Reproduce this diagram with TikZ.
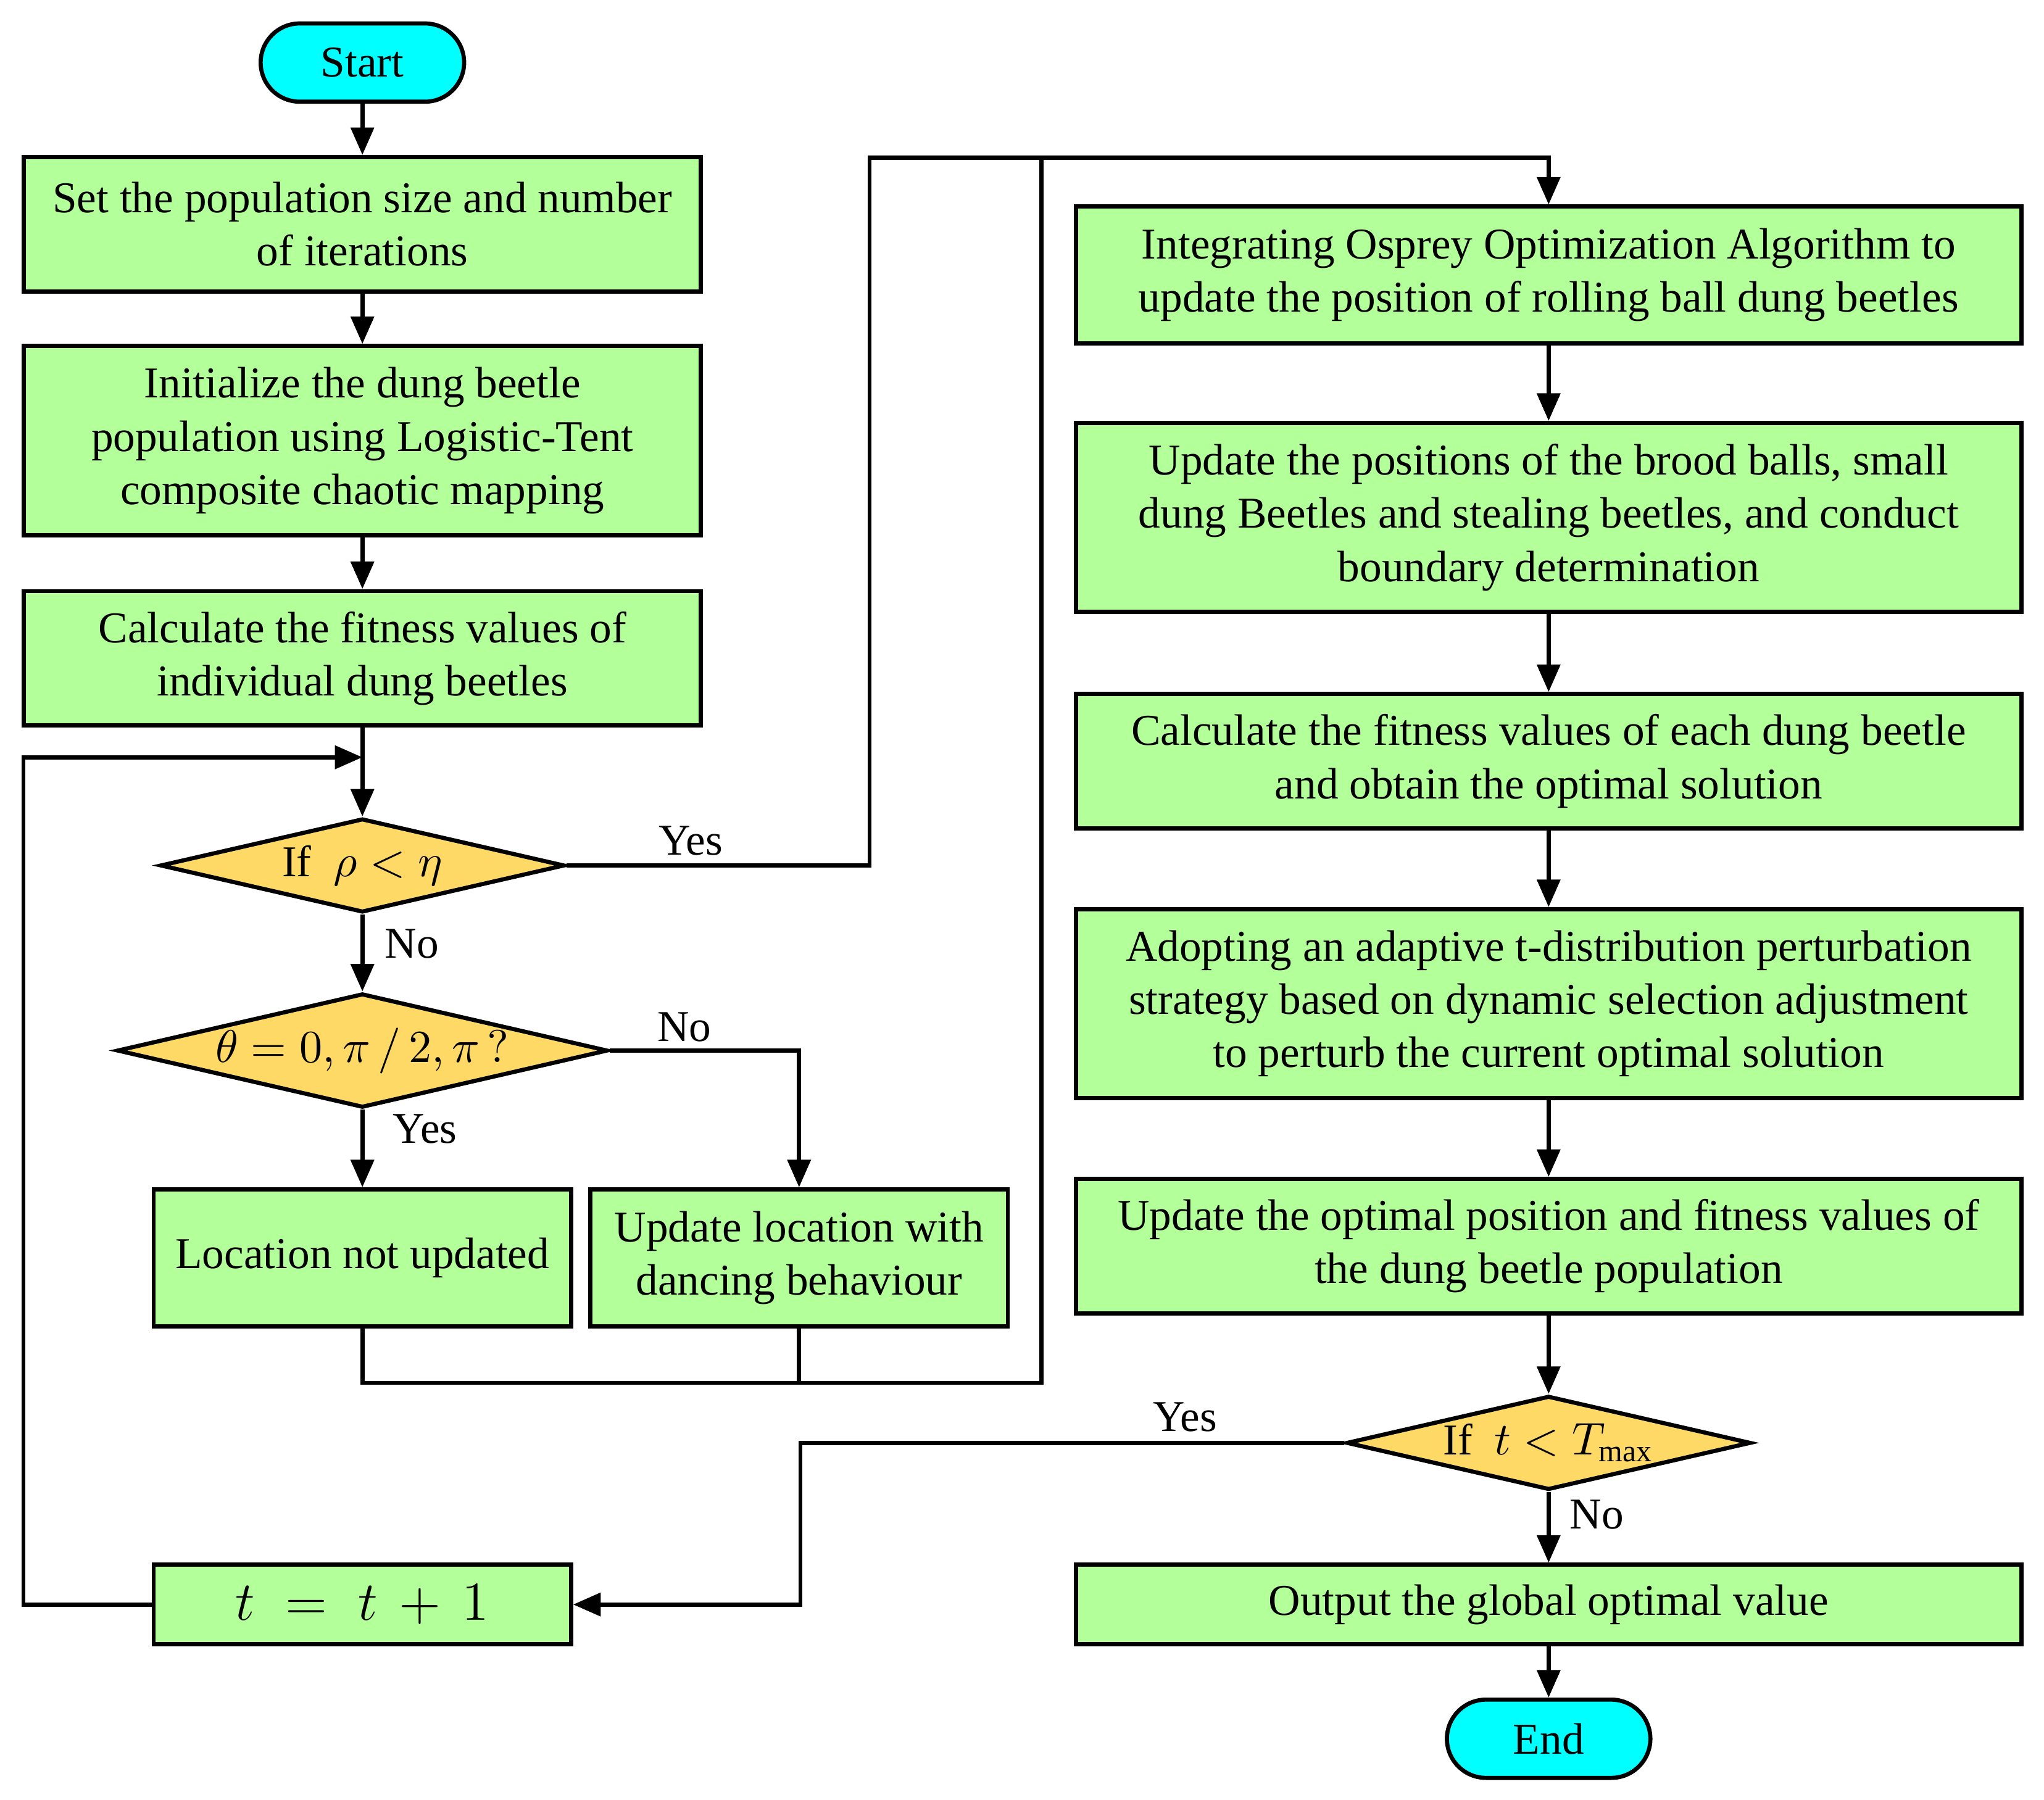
\documentclass[tikz,border=0pt]{standalone}
\usepackage{fontspec}
\setmainfont{Liberation Serif}
\usetikzlibrary{arrows.meta,shapes.geometric}
\definecolor{boxgreen}{HTML}{B3FF99}
\definecolor{decgold}{HTML}{FFD966}
\definecolor{termcyan}{HTML}{00FFFF}

\begin{document}
\begin{tikzpicture}[x=0.01cm, y=-0.01cm,
    font=\fontsize{9.6}{11.6}\selectfont,
    every path/.style={line width=0.9pt},
    box/.style={draw, fill=boxgreen, align=center, inner sep=2pt},
    term/.style={draw, fill=termcyan, rounded corners=0.3cm, minimum width=1.56cm, minimum height=0.6cm},
    dec/.style={draw, fill=decgold, diamond, aspect=4.3, minimum width=3.1cm, minimum height=0.72cm, inner sep=0pt},
    arr/.style={-{Triangle[length=6pt,width=5pt]}}]
    \useasboundingbox (0,0) rectangle (1568,1381);

    % Left column
    \node[term] (start) at (278,48) {Start};
    \node[box, minimum width=5.19cm, minimum height=1.03cm] (init) at (278,172) {Set the population size and number\\of iterations};
    \node[box, minimum width=5.19cm, minimum height=1.45cm] (chaos) at (278,338) {Initialize the dung beetle\\population using Logistic-Tent\\composite chaotic mapping};
    \node[box, minimum width=5.19cm, minimum height=1.03cm] (fit) at (278,505) {Calculate the fitness values of\\individual dung beetles};
    \node[dec] (rho) at (278,664) {If\ \ $\rho<\eta$};
    \node[dec] (theta) at (278,806) {$\theta=0,\pi\,/\,2,\pi\,?$};
    \node[box, minimum width=3.2cm, minimum height=1.05cm] (keep) at (278,965) {Location not updated};
    \node[box, minimum width=3.2cm, minimum height=1.05cm] (dance) at (613,965) {Update location with\\dancing behaviour};
    \node[box, minimum width=3.2cm, minimum height=0.61cm, font=\fontsize{13}{15}\selectfont] (incr) at (278,1231) {$t\;=\;t\,+\,1$};

    % Right column
    \node[box, minimum width=7.25cm, minimum height=1.05cm] (osprey) at (1188,211) {Integrating Osprey Optimization Algorithm to\\update the position of rolling ball dung beetles};
    \node[box, minimum width=7.25cm, minimum height=1.45cm] (brood) at (1188,397) {Update the positions of the brood balls, small\\dung Beetles and stealing beetles, and conduct\\boundary determination};
    \node[box, minimum width=7.25cm, minimum height=1.03cm] (best) at (1188,584) {Calculate the fitness values of each dung beetle\\and obtain the optimal solution};
    \node[box, minimum width=7.25cm, minimum height=1.45cm] (pert) at (1188,770) {Adopting an adaptive t-distribution perturbation\\strategy based on dynamic selection adjustment\\to perturb the current optimal solution};
    \node[box, minimum width=7.25cm, minimum height=1.03cm] (upd) at (1188,956) {Update the optimal position and fitness values of\\the dung beetle population};
    \node[dec] (tmax) at (1188,1107) {If\ \ $t<T_{\mathrm{max}}$};
    \node[box, minimum width=7.25cm, minimum height=0.61cm] (out) at (1188,1231) {Output the global optimal value};
    \node[term] (stop) at (1188,1334) {End};

    \coordinate (join) at (278,581);
    \coordinate (top) at (799,121);

    % Connectors
    \draw[arr] (start) -- (init);
    \draw[arr] (init) -- (chaos);
    \draw[arr] (chaos) -- (fit);
    \draw[arr] (fit) -- (rho);
    \draw[arr] (incr.west) -- (18,1231) -- (18,581) -- (join);
    \draw[arr] (rho.east) -- (667,664) -- (667,121) -- (1188,121) -- (osprey.north);
    \draw[arr] (rho) -- (theta);
    \draw[arr] (theta) -- (keep);
    \draw[arr] (theta.east) -| (dance.north);
    \draw (keep.south) -- (278,1061) -- (799,1061) -- (top);
    \draw (dance.south) -- (613,1061);
    \draw[arr] (osprey) -- (brood);
    \draw[arr] (brood) -- (best);
    \draw[arr] (best) -- (pert);
    \draw[arr] (pert) -- (upd);
    \draw[arr] (upd) -- (tmax);
    \draw[arr] (tmax) -- (out);
    \draw[arr] (out) -- (stop);
    \draw[arr] (tmax.west) -- (614,1107) -- (614,1231) -- (incr.east);

    % Labels
    \node at (530,645) {Yes};
    \node at (316,724) {No};
    \node at (525,788) {No};
    \node at (326,866) {Yes};
    \node at (909,1087) {Yes};
    \node at (1225,1162) {No};
\end{tikzpicture}
\end{document}
